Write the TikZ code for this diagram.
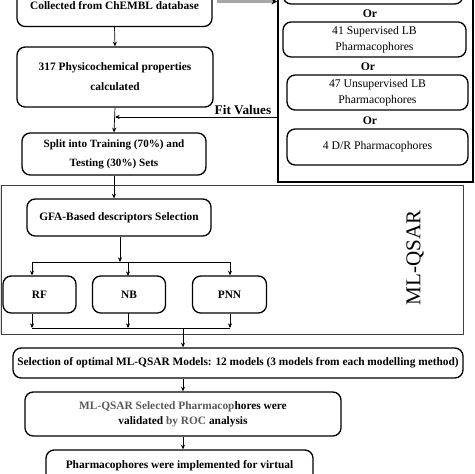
\documentclass[tikz,border=0pt]{standalone}
\usepackage{fontspec}
\setmainfont{Liberation Serif}
\usetikzlibrary{arrows.meta}
\definecolor{txtgray}{gray}{0.35}
\begin{document}
\begin{tikzpicture}[x=0.03cm,y=-0.03cm,
  rbox/.style={draw, line width=1.1pt, rounded corners=7pt, align=center, inner sep=0pt, font=\bfseries\fontsize{9.7}{13}\selectfont},
  pbox/.style={draw, line width=1.1pt, rounded corners=7pt, align=center, inner sep=0pt, font=\fontsize{10}{14}\selectfont},
  frame/.style={draw, line width=0.9pt, inner sep=0pt},
  arr/.style={-{Stealth[length=4pt,width=3.5pt]}, line width=0.6pt},
  ln/.style={line width=0.6pt},
  ortxt/.style={font=\bfseries\fontsize{10}{12}\selectfont, inner sep=0pt}]
\useasboundingbox (0,0) rectangle (474,474);
\clip (0,0) rectangle (474,474);
\fill[white] (0,0) rectangle (474,474);
\fill[black!12] (0,185) rectangle (2,334);
% outer frames
\node[frame, line width=1.2pt, minimum width=195*0.03cm, minimum height=222*0.03cm] (pframe) at (375.5,71) {};
\node[frame, line width=0.7pt, draw=black!75, minimum width=462*0.03cm, minimum height=149*0.03cm] (mlframe) at (232,259.5) {};
% left column
\node[rbox, minimum width=195*0.03cm, minimum height=56*0.03cm] (c1) at (114.5,-1.5) {\phantom{X}\\Collected from ChEMBL database};
\node[rbox, minimum width=196*0.03cm, minimum height=60*0.03cm, font=\bfseries\fontsize{9.7}{17}\selectfont] (c2) at (115,77) {317 Physicochemical properties\\calculated};
\node[rbox, minimum width=184*0.03cm, minimum height=42*0.03cm, font=\bfseries\fontsize{9.5}{16}\selectfont] (c3) at (114,154) {Split into Training (70\%) and\\Testing (30\%) Sets};
% right column
\node[pbox, minimum width=180*0.03cm, minimum height=38*0.03cm] (r1) at (373,-15) {};
\node[ortxt] (o1) at (370,14) {Or};
\node[pbox, minimum width=183*0.03cm, minimum height=35*0.03cm] (r2) at (374.5,39.5) {41 Supervised LB\\Pharmacophores};
\node[ortxt] (o2) at (368,67) {Or};
\node[pbox, minimum width=181*0.03cm, minimum height=35*0.03cm] (r3) at (377.5,92.5) {47 Unsupervised LB\\Pharmacophores};
\node[ortxt] (o3) at (370,121) {Or};
\node[pbox, minimum width=181*0.03cm, minimum height=36*0.03cm] (r4) at (377.5,147) {4 D/R Pharmacophores};
% gray arrow
\coordinate (ga) at (217,1.5);
\draw[line width=2.6pt, gray!70, -{Stealth[length=5pt,width=5pt,black]}] (ga) -- (ga -| pframe.west);
% fit values
\node[font=\bfseries\fontsize{11.3}{13}\selectfont, inner sep=0pt] (fit) at (243,110) {Fit Values};
\coordinate (fv) at (pframe.west |- 0,117);
\draw[arr] (fv) -- (c2.south |- fv);
\draw[arr] (c2.south) -- (c3.north);
\draw[arr] (c1.south) -- (c2.north);
% ML-QSAR
\node[font=\fontsize{18}{20}\selectfont, rotate=90, inner sep=0pt] (mlq) at (415,258) {ML-QSAR};
\node[rbox, minimum width=184*0.03cm, minimum height=37*0.03cm] (gfa) at (119,217.5) {GFA-Based descriptors Selection};
\draw[arr] (c3.south) -- (c3.south |- gfa.north);
\node[rbox, minimum width=73*0.03cm, minimum height=37*0.03cm] (rf) at (39.5,294.5) {RF};
\node[rbox, minimum width=73*0.03cm, minimum height=37*0.03cm] (nb) at (129,294.5) {NB};
\node[rbox, minimum width=74*0.03cm, minimum height=37*0.03cm] (pnn) at (229.5,294.5) {PNN};
\coordinate (sp) at (120,262);
\coordinate (spl) at (32,262);
\coordinate (spr) at (230,262);
\draw[arr] (gfa.south -| sp) -- (sp);
\draw[ln] (spl) -- (spr);
\draw[arr] (spl) -- (spl |- rf.north);
\draw[arr] (128,262) -- (128,276);
\draw[arr] (spr) -- (spr |- pnn.north);
\coordinate (jl) at (32,328);
\coordinate (jr) at (230,328);
\coordinate (jm) at (183,328);
\draw[ln] (jl) -- (jr);
\draw[arr] (jl |- rf.south) -- (jl);
\draw[arr] (128,313) -- (128,328);
\draw[arr] (jr |- pnn.south) -- (jr);
% bottom chain
\node[rbox, minimum width=450*0.03cm, minimum height=30*0.03cm] (sel) at (238,363) {Selection of optimal ML-QSAR Models: 12 models (3 models from each modelling method)};
\draw[arr] (jm) -- (jm |- sel.north);
\node[rbox, minimum width=316*0.03cm, minimum height=44*0.03cm, font=\bfseries\fontsize{9.7}{13}\selectfont] (val) at (183,414) {\textcolor{txtgray}{ML-QSAR Selected Pharmacop}hores were\\validated \textcolor{txtgray}{by ROC} analysis};
\draw[arr] (jm |- sel.south) -- (jm |- val.north);
\node[rbox, minimum width=267*0.03cm, minimum height=44*0.03cm] (imp) at (179.5,472) {Pharmacophores were implemented for virtual\\\phantom{X}};
\draw[arr] (jm |- val.south) -- (jm |- imp.north);
\end{tikzpicture}
\end{document}
